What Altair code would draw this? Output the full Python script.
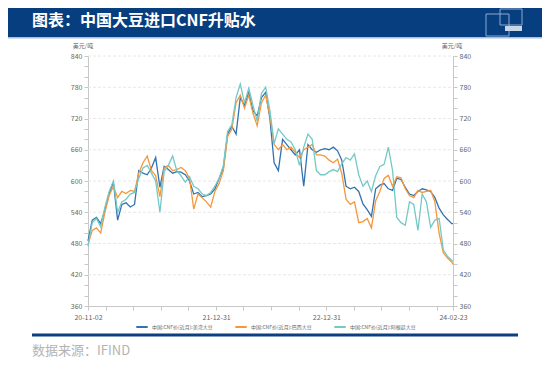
import altair as alt
import pandas as pd

FONT = "Noto Sans CJK SC"

dates = [
    "2020-11-02", "2020-11-16", "2020-11-30", "2020-12-14", "2020-12-28",
    "2021-01-11", "2021-01-25", "2021-02-08", "2021-02-22", "2021-03-08", "2021-03-22",
    "2021-04-05", "2021-04-19", "2021-05-03", "2021-05-17", "2021-05-31", "2021-06-14",
    "2021-06-28", "2021-07-12", "2021-07-26", "2021-08-09", "2021-08-23", "2021-09-06",
    "2021-09-20", "2021-10-04", "2021-10-18", "2021-11-01", "2021-11-15", "2021-11-29",
    "2021-12-13", "2021-12-27",
    "2022-01-10", "2022-01-24", "2022-02-07", "2022-02-21", "2022-03-07", "2022-03-21",
    "2022-04-04", "2022-04-18", "2022-05-02", "2022-05-16", "2022-05-30", "2022-06-13",
    "2022-06-27", "2022-07-11", "2022-07-25", "2022-08-08", "2022-08-22", "2022-09-05",
    "2022-09-19", "2022-10-03", "2022-10-17", "2022-10-31", "2022-11-14", "2022-11-28",
    "2022-12-12", "2022-12-26",
    "2023-01-09", "2023-01-23", "2023-02-06", "2023-02-20", "2023-03-06", "2023-03-20",
    "2023-04-03", "2023-04-17", "2023-05-01", "2023-05-15", "2023-05-29", "2023-06-12",
    "2023-06-26", "2023-07-10", "2023-07-24", "2023-08-07", "2023-08-21", "2023-09-04",
    "2023-09-18", "2023-10-02", "2023-10-16", "2023-10-30", "2023-11-13", "2023-11-27",
    "2023-12-11", "2023-12-25",
    "2024-01-08", "2024-01-22", "2024-02-05", "2024-02-19", "2024-02-23",
]

us_gulf = [
    485, 525, 530, 518, 545, 575, 598, 525, 555, 558, 550, 555, 620, 615, 612, 625, 645, 588, 628, 622, 615, 618,
    617, 612, 600, 575, 578, 570, 572, 575, 585, 605, 625, 690, 705, 690, 760, 745, 770, 735, 725, 760, 770, 720, 635, 620,
    680, 670, 660, 650, 660, 590, 670, 660, 655, 660, 662, 660, 665, 658, 640, 590, 585, 588, 580, 556, 545, 532,
    585, 592, 595, 585, 582, 605, 603, 588, 575, 572, 580, 585, 583, 580, 568, 548, 535, 526, 518, 518,
]

brazil = [
    478, 505, 510, 500, 540, 572, 590, 568, 580, 576, 582, 580, 615, 635, 648, 620, 610, 570, 625, 630, 620, 622,
    626, 620, 605, 546, 575, 568, 560, 550, 580, 595, 620, 685, 700, 750, 765, 740, 765, 730, 706, 750, 765, 725, 670, 660,
    670, 660, 665, 655, 645, 660, 665, 670, 650, 650, 648, 640, 635, 642, 614, 565, 555, 560, 520, 522, 528, 510,
    562, 580, 605, 611, 590, 608, 606, 585, 572, 568, 582, 578, 580, 582, 560, 500, 462, 452, 444, 440,
]

argentina = [
    475, 520, 528, 512, 550, 580, 600, 540, 560, 565, 575, 578, 605, 625, 630, 615, 600, 540, 618, 630, 648, 620,
    610, 598, 608, 590, 585, 575, 572, 578, 590, 605, 630, 695, 708, 760, 786, 750, 778, 745, 715, 768, 780, 735, 672, 700,
    690, 680, 675, 660, 630, 665, 690, 680, 620, 612, 612, 618, 622, 618, 633, 645, 640, 652, 612, 590, 600, 580,
    610, 628, 632, 665, 620, 530, 520, 515, 560, 555, 505, 575, 560, 511, 525, 528, 468, 455, 448, 446,
]

series_names = ["中国:CNF价(近月):美湾大豆", "中国:CNF价(近月):巴西大豆", "中国:CNF价(近月):阿根廷大豆"]
series_colors = ["#3272b0", "#f5973b", "#74c9c5"]

y_ticks = list(range(360, 841, 20))
grid_values = [420, 480, 540, 600, 660, 720, 780, 840]
x_tick_dates = [
    "2020-11-02", "2020-12-31", "2021-03-31", "2021-06-30", "2021-09-30", "2021-12-31",
    "2022-03-31", "2022-06-30", "2022-09-30", "2022-12-31", "2023-03-31", "2023-06-30",
    "2023-09-30", "2023-12-31", "2024-02-23",
]
x_labels = ["20-11-02", "21-12-31", "22-12-31", "24-02-23"]


def dt(s):
    return alt.DateTime(year=int(s[:4]), month=int(s[5:7]), date=int(s[8:10]), utc=True)


rows = []
for name, vals in zip(series_names, [us_gulf, brazil, argentina]):
    for d, v in zip(dates, vals):
        rows.append({"date": d, "value": v, "series": name})
df = pd.DataFrame(rows)

label_list = "[" + ",".join("'" + s + "'" for s in x_labels) + "]"
x_label_expr = (
    f"indexof({label_list}, utcFormat(datum.value, '%y-%m-%d')) >= 0 ? "
    "utcFormat(datum.value, '%y-%m-%d') : ''"
)
y_label_expr = "datum.value % 60 == 0 ? datum.label : ''"

axis_common = dict(
    labelFont=FONT, labelFontSize=7, labelColor="#666666", domainColor="#c8c8c8",
    tickColor="#c8c8c8", tickSize=4, title=None, grid=False, labelOverlap=False,
)

y_scale = alt.Scale(domain=[360, 840], nice=False, zero=False)

lines = alt.Chart(df).mark_line(strokeWidth=1.3).encode(
    x=alt.X(
        "date:T",
        scale=alt.Scale(type="utc", domain=[dt("2020-11-02"), dt("2024-02-23")]),
        axis=alt.Axis(values=[dt(s) for s in x_tick_dates], labelExpr=x_label_expr,
                      labelFlush=False, labelPadding=3, **axis_common),
    ),
    y=alt.Y("value:Q", scale=y_scale,
            axis=alt.Axis(values=y_ticks, labelExpr=y_label_expr, labelPadding=2, **axis_common)),
    color=alt.Color(
        "series:N",
        scale=alt.Scale(domain=series_names, range=series_colors),
        legend=alt.Legend(
            orient="none", legendX=47, legendY=264, direction="horizontal", title=None,
            symbolType="stroke", symbolStrokeWidth=2, symbolSize=130, labelOffset=3,
            labelFont=FONT, labelFontSize=5, labelColor="#666666", columnPadding=18,
        ),
    ),
)

grid = alt.Chart(pd.DataFrame({"g": grid_values})).mark_rule(
    color="#e2e2e2", strokeDash=[3, 2], strokeWidth=0.8
).encode(
    x=alt.value(0), x2=alt.value(365),
    y=alt.Y("g:Q", scale=y_scale,
            axis=alt.Axis(orient="right", values=y_ticks, labelExpr=y_label_expr, labelPadding=2, **axis_common)),
)

one = pd.DataFrame({"k": [0]})

banner = alt.Chart(one).mark_rect(color="#073e80").encode(
    x=alt.value(-80), x2=alt.value(454), y=alt.value(-48), y2=alt.value(-19)
)
banner_line = alt.Chart(one).mark_rect(color="#a9bfdc").encode(
    x=alt.value(-80), x2=alt.value(454), y=alt.value(-19), y2=alt.value(-17.5)
)
logo1 = alt.Chart(one).mark_rect(fill=None, stroke="#8fa9cc", strokeWidth=1).encode(
    x=alt.value(398), x2=alt.value(421), y=alt.value(-42), y2=alt.value(-20)
)
logo2 = alt.Chart(one).mark_rect(fill=None, stroke="#8fa9cc", strokeWidth=1).encode(
    x=alt.value(412), x2=alt.value(434), y=alt.value(-47), y2=alt.value(-31)
)
logo3 = alt.Chart(one).mark_rect(color="#c9d6e8").encode(
    x=alt.value(417), x2=alt.value(434), y=alt.value(-30), y2=alt.value(-25)
)
bottom_line = alt.Chart(one).mark_rect(color="#0b3f82").encode(
    x=alt.value(-56), x2=alt.value(430), y=alt.value(277.5), y2=alt.value(280.5)
)


def txt(text, x, y, size, color, weight="normal", align="left"):
    return alt.Chart(pd.DataFrame({"t": [text]})).mark_text(
        align=align, baseline="middle", fontSize=size, color=color, fontWeight=weight, font=FONT
    ).encode(x=alt.value(x), y=alt.value(y), text="t:N")


title = txt("图表：中国大豆进口CNF升贴水", -56, -35.5, 16, "#ffffff", weight="bold")
unit_left = txt("美元/吨", -5, -10, 6, "#666666", align="center")
unit_right = txt("美元/吨", 364, -10, 6, "#666666", align="center")
source = txt("数据来源：IFIND", -56, 295, 13, "#b3b3b3")

chart = alt.layer(
    grid, lines, banner, banner_line, logo1, logo2, logo3, bottom_line,
    title, unit_left, unit_right, source,
).resolve_scale(y="independent").properties(
    width=365, height=250,
    padding={"left": 80, "top": 48, "right": 89, "bottom": 58},
    autosize=alt.AutoSizeParams(type="none"),
    background="#ffffff",
).configure_view(stroke=None).configure_axis(grid=False)

chart.save("out.html", embed_options={"renderer": "svg", "actions": False})
